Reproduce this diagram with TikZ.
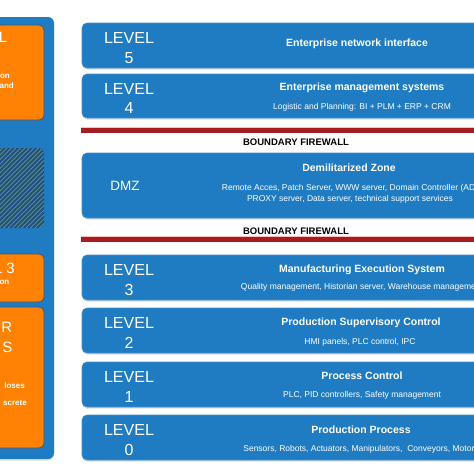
\documentclass[tikz,border=0pt]{standalone}
\usepackage{fontspec}
\setmainfont{Liberation Sans}
\usetikzlibrary{shadows}
\definecolor{boxblue}{HTML}{1F7CC3}
\definecolor{orng}{HTML}{FF8204}
\definecolor{hatchbg}{HTML}{1D4F88}
\definecolor{hatchln}{HTML}{5E8F7C}
\definecolor{fwred}{HTML}{A51D22}
\definecolor{edgec}{HTML}{3D5672}
\begin{document}
\begin{tikzpicture}[x=1pt,y=-1pt,
  lvlbox/.style={fill=boxblue, draw=boxblue!85!white, line width=0.6pt, rounded corners=5pt,
    inner sep=0pt, outer sep=0pt, anchor=north west, minimum width=420pt,
    drop shadow={shadow xshift=0pt, shadow yshift=-1.5pt, opacity=0.25, fill=gray}},
  sidebox/.style={fill=orng, draw=edgec, line width=0.7pt, rounded corners=5pt,
    inner sep=0pt, outer sep=0pt, anchor=north west, minimum width=64pt},
  lvltxt/.style={text=white, font=\fontsize{16}{16}\selectfont, inner sep=0pt},
  ttl/.style={text=white, font=\bfseries\fontsize{10.5}{12}\selectfont, inner sep=0pt},
  sub/.style={text=white, font=\fontsize{8.5}{11}\selectfont, inner sep=0pt, align=center},
  fwtxt/.style={text=black, font=\bfseries\fontsize{9.5}{11}\selectfont, inner sep=0pt},
  sidebig/.style={text=white, font=\fontsize{15}{15}\selectfont, inner sep=0pt, anchor=east},
  sidesmall/.style={text=white, font=\bfseries\fontsize{8}{9}\selectfont, inner sep=0pt, anchor=east},
  fwline/.style={draw=fwred, line width=4.5pt}
]
\useasboundingbox (0,0) rectangle (474,474);
\clip (0,0) rectangle (474,474);

% left panel
\node[fill=boxblue, rounded corners=6pt, inner sep=0pt, outer sep=0pt, anchor=north west,
  minimum width=80pt, minimum height=442pt,
  drop shadow={shadow xshift=0pt, shadow yshift=-1.5pt, opacity=0.25, fill=gray}] (panel) at (-26,17) {};
\node[sidebox, minimum height=95pt] (ob1) at (-20,25) {};
\node[fill=hatchbg, rounded corners=5pt, inner sep=0pt, outer sep=0pt, anchor=north west,
  minimum width=64pt, minimum height=80pt] (hb) at (-20,148) {};
\begin{scope}
  \clip[rounded corners=5pt] (-20,148) rectangle (44,228);
  \foreach \i in {-100,-95.5,...,60} {
    \draw[hatchln, line width=0.8pt] (\i,228) -- (\i+80,148);
  }
\end{scope}
\node[sidebox, minimum height=48pt] (ob2) at (-20,254) {};
\node[sidebox, minimum height=141pt] (ob3) at (-20,307) {};

\node[sidebig] (t1) at (7.5,37) {L};
\node[sidesmall] (t2) at (10,76) {on};
\node[sidesmall] (t3) at (14,86) {and};
\node[sidebig] (t4) at (15,268) {L 3};
\node[sidesmall] (t5) at (9.5,282) {on};
\node[sidebig] (t6) at (12.5,327) {R};
\node[sidebig] (t7) at (12.5,347) {S};
\node[sidesmall] (t8) at (25,386) {loses};
\node[sidesmall] (t9) at (27,403) {screte};

% right boxes
\node[lvlbox, minimum height=45pt] (b5) at (82,23) {};
\node[lvlbox, minimum height=44pt] (b4) at (82,74) {};
\node[lvlbox, minimum height=65pt] (bd) at (82,153) {};
\node[lvlbox, minimum height=45pt] (b3) at (82,255) {};
\node[lvlbox, minimum height=45pt] (b2) at (82,308) {};
\node[lvlbox, minimum height=45pt] (b1) at (82,362) {};
\node[lvlbox, minimum height=45pt] (b0) at (82,415) {};

% firewall lines
\coordinate (f1a) at (81,130.5);
\coordinate (f1b) at (480,130.5);
\coordinate (f2a) at (81,239.5);
\coordinate (f2b) at (480,239.5);
\draw[red!25, line width=1pt] ([yshift=3pt]f1a) -- ([yshift=3pt]f1b);
\draw[fwline] (f1a) -- (f1b);
\draw[red!25, line width=1pt] ([yshift=3pt]f2a) -- ([yshift=3pt]f2b);
\draw[fwline] (f2a) -- (f2b);
\node[fwtxt] (fw1) at (296,142) {BOUNDARY FIREWALL};
\node[fwtxt] (fw2) at (296,231) {BOUNDARY FIREWALL};

% level labels
\node[lvltxt] (l5a) at (129,38) {LEVEL};
\node[lvltxt] (l5b) at (129,58) {5};
\node[lvltxt] (l4a) at (129,89) {LEVEL};
\node[lvltxt] (l4b) at (129,108) {4};
\node[lvltxt, font=\fontsize{13.5}{14}\selectfont] (dmz) at (125,186) {DMZ};
\node[lvltxt] (l3a) at (129,270) {LEVEL};
\node[lvltxt] (l3b) at (129,290) {3};
\node[lvltxt] (l2a) at (129,323) {LEVEL};
\node[lvltxt] (l2b) at (129,343) {2};
\node[lvltxt] (l1a) at (129,377) {LEVEL};
\node[lvltxt] (l1b) at (129,397) {1};
\node[lvltxt] (l0a) at (129,430) {LEVEL};
\node[lvltxt] (l0b) at (129,450) {0};

% titles
\node[ttl] (c5) at (357,44) {Enterprise network interface};
\node[ttl] (c4) at (362,88) {Enterprise management systems};
\node[sub] (s4) at (362,107) {Logistic and Planning: BI + PLM + ERP + CRM};
\node[ttl] (cd) at (349,168) {Demilitarized Zone};
\node[sub] (sd) at (350,193.5) {Remote Acces, Patch Server, WWW server, Domain Controller (AD)\\PROXY server, Data server, technical support services};
\node[ttl] (c3) at (362,270) {Manufacturing Execution System};
\node[sub] (s3) at (362,287) {Quality management, Historian server, Warehouse management};
\node[ttl] (c2) at (361,323) {Production Supervisory Control};
\node[sub] (s2) at (360,342) {HMI panels, PLC control, IPC};
\node[ttl] (c1) at (362,376) {Process Control};
\node[sub] (s1) at (362,395) {PLC, PID controllers, Safety management};
\node[ttl] (c0) at (361,430) {Production Process};
\node[sub] (s0) at (361,449) {Sensors, Robots, Actuators, Manipulators,\ \ Conveyors, Motors};
\end{tikzpicture}
\end{document}
